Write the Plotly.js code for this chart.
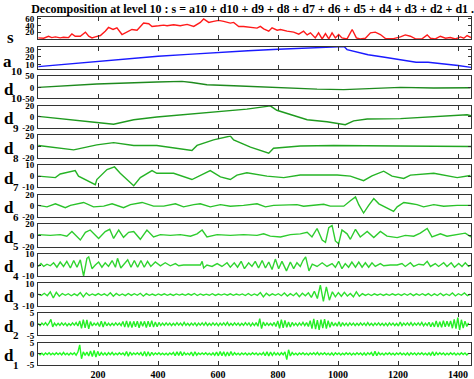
<!DOCTYPE html>
<html><head><meta charset="utf-8">
<script src="https://cdn.plot.ly/plotly-3.0.1.min.js"></script>
<style>body{margin:0;background:#fff}#c{width:474px;height:379px}</style>
</head><body><div id="c"></div>
<script>
// ---- data ----
const titleText = "Decomposition at level 10 : s = a10 + d10 + d9 + d8 + d7 + d6 + d5 + d4 + d3 + d2 + d1 .";
const xTicks = [200,400,600,800,1000,1200,1400];
const xTickLabels = ["200","400","600","800","1000","1200","1400"];

const sX = [1,19,35,46,58,74,85,102,113,124,141,158,169,180,191,208,224,235,250,263,280,297,313,330,352,369,380,402,419,430,452,474,497,519,541,552,569,585,602,619,641,652,669,685,708,730,741,752,769,780,797,808,830,852,869,885,897,908,924,935,947,958,969,980,991,1002,1013,1030,1047,1061,1074,1091,1108,1124,1141,1158,1185,1208,1224,1241,1258,1280,1297,1308,1324,1341,1358,1374,1391,1408,1419,1430,1443];
const sY = [3,2,8,4,6,3,5,4,15,8,8,20,8,3,6,10,23,34,28,33,13,20,28,26,47,45,37,39,41,39,42,39,43,37,49,59,49,52,55,52,47,49,37,37,35,32,37,30,23,33,26,28,23,20,14,23,12,18,3,18,0,16,0,18,3,13,3,0,28,3,0,2,18,20,13,1,1,6,12,8,0,0,12,2,0,8,2,4,0,6,2,10,4];

const a10X = [1,100,200,300,400,500,600,700,800,900,1000,1020,1030,1060,1100,1150,1200,1260,1300,1350,1400,1443];
const a10Y = [7,10.5,14,17,21,23.5,26.5,28.5,30.5,32,33.5,34,30,27,23,20,17,13,13,11,8.5,6];

const d10X = [1,196,396,480,513,563,652,763,874,930,1019,1052,1097,1208,1319,1441];
const d10Y = [0,15,24,27,22,12,7,0,-5,-8,-10,-8,-5,0,-3,-2];

const d9X = [1,97,196,252,274,319,396,485,596,696,763,774,796,852,897,963,1024,1052,1097,1208,1319,1430,1443];
const d9Y = [1,-5,-10,-13,-10,-5,0,4,9,14,19,20,12,3,-5,-8.5,-14,-7,-3.6,-3,0,4,2];

const d8X = [1,119,196,252,319,396,513,530,585,641,652,708,769,785,874,985,1200,1443];
const d8Y = [2,-6,3,7,2,2,-7,2,12,19,12,-1,-12,-3,1,2,1,0];

const d7X = [1,58,74,124,135,191,196,230,255,274,319,341,380,396,452,513,574,608,641,663,696,763,819,874,941,997,1041,1085,1113,1152,1180,1219,1241,1319,1397,1441];
const d7Y = [0,-1.3,2,5,0,-7.7,-3,6,8.3,2.6,-8.6,-1.3,5,2.6,2.6,-3,5,-0.6,-3,1,3,0,-1.3,1,1,1,0,-4,0.3,4.5,0,-2,1,2.6,-1.3,0.6];

const d6X = [1,30,58,91,108,152,185,219,247,285,308,347,385,419,458,485,519,541,574,608,641,685,730,758,785,830,863,885,919,952,974,1019,1041,1058,1069,1085,1102,1119,1136,1185,1197,1219,1241,1263,1285,1319,1352,1397,1443];
const d6Y = [0.7,-2,3.5,-3.5,0.7,6,-2,-0.7,3.5,-3.5,2,6,-0.7,-0.7,3.5,-2,2,3.5,-2,2,-0.7,0.7,3.5,-2,0.7,0.7,2,-0.7,0.7,2.8,-0.7,-0.7,9,16,2,-13,0.7,13,3.5,-10,-2,6,4,2,-2,2,-0.7,0.7,0.7];

const d5X = [1,41,74,96,113,141,158,174,202,224,239,252,269,285,302,319,341,363,385,408,441,474,508,530,547,563,597,641,685,730,752,774,808,841,874,897,913,930,947,958,969,980,991,1002,1013,1030,1041,1058,1074,1097,1119,1141,1163,1197,1224,1252,1274,1297,1313,1341,1363,1397,1424,1443];
const d5Y = [1.4,0,1.4,-1.4,7,-8.3,5.5,9.7,-5.5,7,11,-5.5,9.7,-3.5,5.5,7,-7,9.7,-2.8,1.4,0,1.4,-1.4,2.8,9.7,-2.8,1.4,0,1.4,0,2.8,-1.4,-2.8,1.4,2.8,5.5,-2.8,12.4,-8.3,-12.4,13.8,18,-10,-15,9.7,2.8,-7,11,-2.8,7,-4,7,-1.4,-4,0,-1.4,4,12.4,-2.8,2.8,-1.4,1.4,4,-2.8];

const d4X = [1,10,19,30,41,52,63,74,85,96,108,119,130,141,152,163,169,180,191,202,213,224,235,247,258,265,276,288,299,310,321,332,343,354,365,376,391,408,424,441,458,469,485,541,547,552,563,580,597,613,630,641,654,665,677,688,702,713,724,735,747,758,769,780,791,802,813,828,841,852,863,874,883,892,903,914,930,947,963,980,991,1002,1013,1024,1035,1046,1058,1069,1080,1091,1102,1113,1124,1141,1152,1174,1197,1213,1224,1241,1252,1269,1285,1297,1308,1324,1335,1352,1363,1377,1388,1402,1413,1424,1435,1443];
const d4Y = [-1.3,1.3,-1.3,0.7,-0.7,2,-2,2.7,-1.3,3.3,-2.7,4,-2,4.7,-10,6,7.3,-3.3,0,2.7,-2,2,-1.3,4,-2,6,-2.7,1.3,4.7,-2,4,-2,4,-2,3.3,-1.3,2.7,-0.7,2,-0.7,1.3,-0.7,0,0,3.3,-2.7,0,-1.3,1.3,-1.3,2,-2,2,-2,3.3,-3.3,2,-1.3,3.3,-2.7,4,-2.7,2.7,-4,5.3,-3.3,3.3,-5.3,2.7,-3.3,2,-1.3,4,7.3,-5.3,0.7,-1.3,2,-1.3,1.3,-2,3.3,-3.3,1.3,-2,2.7,-2,2.7,-2,2,-2,2,-1.3,1.3,-0.7,0,0,1.3,-1.3,2,-1.3,0.7,0,3.3,-1.3,1.3,-1.3,2,-1.3,2,-2,1.3,-1.3,2,-1.3,0];

// d3: sampled every 10 samples starting at 1
const d3Y = [0.5,-0.8,1.2,-1.0,2.5,-3.0,2.0,-1.5,1.0,-0.6,
 0.8,-1.0,0.7,-0.9,1.8,-2.0,1.5,-0.8,0.6,-0.7,
 0.9,-0.6,0.7,-1.0,1.6,-1.5,1.0,-0.8,0.6,-0.9,
 1.0,-0.7,0.8,-0.6,1.2,-1.4,0.9,-0.6,0.5,-0.8,
 0.6,-0.5,0.7,-0.6,0.5,-0.7,0.6,-0.4,0.5,-0.6,
 0.7,-0.5,1.0,-0.8,0.6,-0.5,0.4,-0.6,0.8,-0.7,
 0.5,-0.4,0.6,-0.5,0.7,-0.6,0.5,-0.4,0.6,-0.8,
 1.0,-0.8,0.6,-0.7,1.8,-2.0,1.2,-0.9,0.7,-0.6,
 0.8,-1.0,1.4,-1.2,0.9,-1.0,1.5,-1.8,1.2,-1.0,
 1.6,-2.5,3.0,-3.5,8.5,-6.0,7.0,-5.0,2.5,-2.0,
 1.8,-1.5,2.0,-1.2,1.0,-2.0,2.5,-1.5,0.9,-0.7,
 0.6,-0.8,0.7,-0.5,0.6,-0.7,0.5,-0.6,0.7,-0.5,
 0.6,-0.7,0.8,-0.6,1.0,-0.9,0.7,-0.6,0.8,-0.7,
 0.9,-1.0,0.7,-0.8,1.2,-0.9,0.6,-0.8,1.5,-1.2,
 0.8,-0.6,1.5,-1.0,0.5];

// d2, d1: sampled every 6 samples starting at 1
const d2Y = [0.4,-0.6,0.5,-0.3,0.7,-0.5,0.6,2.2,-1.2,0.5,
 -0.6,0.4,-0.5,0.6,-0.4,0.5,-0.7,0.3,-0.5,0.6,
 -0.4,0.7,-0.8,1.5,-1.8,2.0,-1.6,1.9,-2.1,1.2,
 -0.8,0.5,-0.4,0.6,-1.0,1.4,-1.3,1.1,-0.7,0.5,
 -0.6,0.4,-0.5,0.6,-0.4,0.5,-0.6,1.2,-1.3,1.5,
 -1.4,1.2,-1.5,1.3,-1.1,1.4,-1.6,1.2,-0.9,1.3,
 -1.5,1.4,-1.2,1.6,-1.3,1.0,-1.1,0.8,-0.6,0.5,
 -0.5,0.6,-0.4,0.5,-0.6,0.4,-0.5,0.7,-0.4,0.5,
 -0.6,0.8,-0.5,0.4,-0.6,0.5,-0.4,0.6,-0.7,0.5,
 -0.4,0.6,-0.5,0.7,-0.6,0.4,-0.5,0.6,-0.4,0.5,
 -0.7,0.5,-0.4,0.6,-0.5,0.8,-0.6,0.4,-0.5,0.6,
 -0.4,0.5,-0.6,0.4,-0.5,0.7,-0.4,0.6,-0.8,0.5,
 -0.6,0.7,-0.9,2.5,-2.0,1.0,-0.7,0.6,-0.5,0.4,
 -0.6,0.8,-1.0,1.5,-1.8,2.0,-1.6,1.7,-1.4,1.0,
 -1.2,0.8,-0.6,0.5,-0.7,0.6,-0.5,0.8,-0.6,0.7,
 -1.0,1.6,-2.0,2.4,-2.2,1.8,-2.5,2.1,-1.8,2.3,
 -2.0,1.6,-1.4,1.0,-0.8,0.6,-0.9,1.1,-1.0,0.7,
 -0.6,0.5,-0.7,0.6,-0.4,0.5,-0.6,0.4,-0.5,0.6,
 -0.4,0.5,-0.6,0.7,-0.5,0.4,-0.6,0.5,-0.4,0.6,
 -0.5,0.4,-0.6,0.5,-0.7,0.6,-0.4,0.5,-0.6,0.4,
 -0.8,1.0,-0.6,0.5,-0.4,0.6,-0.5,0.7,-0.6,0.5,
 -0.4,0.6,-0.5,0.8,-0.7,0.5,-0.6,0.9,-1.1,0.8,
 -1.2,1.5,-1.3,1.1,-1.4,1.6,-1.2,1.3,-1.0,1.5,
 -1.8,2.2,-2.0,3.0,-2.6,2.0,-1.7,1.4,-1.0,0.6];
const d1Y = [0.3,-0.4,0.3,-0.5,0.4,-0.3,0.5,-0.4,0.3,-0.4,
 0.5,-0.3,0.4,-0.5,0.6,-0.4,0.3,-0.5,0.4,-0.3,
 0.5,-0.6,0.8,4.0,-2.2,0.9,-0.7,0.8,-1.0,1.3,
 -1.2,1.5,-1.4,1.1,-0.8,0.6,-0.5,0.4,-0.6,0.5,
 -0.4,0.6,-0.5,0.3,-0.4,0.5,-0.3,0.4,-0.6,1.0,
 -1.1,0.8,-0.5,0.4,-0.3,0.5,-0.4,0.6,-0.9,1.0,
 -1.1,0.9,-1.0,0.7,-0.5,0.4,-0.3,0.5,-0.4,0.3,
 -0.4,0.3,-0.5,0.4,-0.3,0.6,-0.8,0.9,-0.7,1.0,
 -0.8,0.6,-0.4,0.3,-0.5,0.8,-1.0,0.9,-0.6,0.4,
 -0.3,0.4,-0.3,0.5,-0.4,0.3,-0.5,0.4,-0.6,0.8,
 -0.9,1.0,-0.8,0.9,-1.1,0.8,-0.9,1.0,-0.7,0.5,
 -0.4,0.3,-0.5,0.4,-0.3,0.4,-0.5,0.3,-0.4,0.5,
 -0.3,0.4,-0.5,0.3,-0.4,0.6,-0.8,0.9,-1.0,0.8,
 -0.7,0.6,-0.5,0.4,-0.6,0.5,-0.4,0.9,-2.6,1.8,
 -1.0,0.6,-0.4,0.3,-0.5,0.4,-0.3,0.5,-0.4,0.3,
 -0.5,0.4,-0.3,0.5,-0.4,0.6,-0.5,0.4,-0.3,0.5,
 -0.4,0.3,-0.5,0.4,-0.6,0.5,-0.3,0.4,-0.5,0.3,
 -0.4,0.5,-0.3,0.4,-0.5,0.3,-0.4,0.5,-0.3,0.4,
 -0.5,0.4,-0.6,0.5,-0.3,0.6,-0.9,1.1,-0.8,0.6,
 -0.4,0.3,-0.5,0.4,-0.3,0.5,-0.4,0.3,-0.5,0.4,
 -0.3,0.5,-0.4,0.3,-0.5,0.4,-0.6,0.5,-0.3,0.4,
 -0.5,0.4,-0.3,0.5,-0.4,0.3,-0.5,0.4,-0.6,0.9,
 -0.8,0.6,-0.4,0.5,-0.3,0.4,-0.5,0.3,-0.4,0.5,
 -0.3,0.4,-0.5,0.3,-0.4,0.5,-0.3,0.4,-0.5,0.3];

const labels = ["s","a","d","d","d","d","d","d","d","d","d","d"];
const subs = ["","10","10","9","8","7","6","5","4","3","2","1"];
const yRanges = [[-1,65],[4,34],[-50,50],[-20,20],[-20,20],[-10,10],[-20,20],[-20,20],[-10,10],[-10,10],[-5,5],[-5,5]];
const yTicks = [[20,40,60],[10,20,30],[-50,0,50],[-20,0,20],[-20,0,20],[-10,0,10],[-20,0,20],[-20,0,20],[-10,0,10],[-10,0,10],[-5,0,5],[-5,0,5]];

// ---- styling / layout ----
const colors = ["#ff1a1a","#1a1aff","#1e8a1e","#1f9a1f","#22a622","#26b426","#2ac22a","#2ecc2e","#30d430","#2ee02e","#26ee26","#22fa22"];
const W=474,H=379,ML=37.5,MR=3,MT=16.7,MB=13.7;
const plotW=W-ML-MR, plotH=H-MT-MB;
const PT0=16.7, PSTEP=29.66, PH=22.3;
const serif="Liberation Serif, Times New Roman, serif";

const series = [
  {x:sX,y:sY},{x:a10X,y:a10Y},{x:d10X,y:d10Y},{x:d9X,y:d9Y},{x:d8X,y:d8Y},{x:d7X,y:d7Y},
  {x:d6X,y:d6Y},{x:d5X,y:d5Y},{x:d4X,y:d4Y},{y:d3Y,x0:1,dx:10},{y:d2Y,x0:1,dx:6},{y:d1Y,x0:1,dx:6}
];

const traces=[]; const layout={
  width:W,height:H,showlegend:false,paper_bgcolor:"#fff",plot_bgcolor:"#fff",
  margin:{l:ML,r:MR,t:MT,b:MB},
  title:{text:titleText,font:{family:serif,size:12,weight:"bold",color:"#000"},x:0.533,xanchor:"center",xref:"container",y:1-9/H,yanchor:"middle",yref:"container"},
  annotations:[]
};
function pxX(px){return (px-ML)/plotW;}
function pxY(py){return 1-(py-MT)/plotH;}
series.forEach((s,i)=>{
  const k=i===0?"":String(i+1);
  const t={type:"scatter",mode:"lines",line:{color:colors[i],width:1.4},xaxis:"x"+k,yaxis:"y"+k,hoverinfo:"skip"};
  Object.assign(t,s); traces.push(t);
  const top=PT0+PSTEP*i-MT, bot=top+PH;
  const d0=Math.max(0,1-bot/plotH), d1=Math.min(1,1-top/plotH);
  layout["xaxis"+k]={domain:[0,1],anchor:"y"+k,range:[0,1443],tickvals:xTicks,ticktext:xTickLabels,
    showticklabels:i===11,ticks:"inside",ticklen:4,tickcolor:"#333",mirror:"ticks",showline:true,linecolor:"#333",linewidth:1,
    showgrid:false,zeroline:false,tickfont:{family:serif,size:10,weight:"bold",color:"#000"}};
  layout["yaxis"+k]={domain:[d0,d1],anchor:"x"+k,range:yRanges[i],tickvals:yTicks[i],ticktext:yTicks[i].map(String),
    ticks:"inside",ticklen:3,tickcolor:"#333",mirror:"ticks",showline:true,linecolor:"#333",linewidth:1,
    showgrid:false,zeroline:false,ticklabelstandoff:1,tickfont:{family:serif,size:9,weight:"bold",color:"#000"}};
  const pc=PT0+PSTEP*i+PH/2;
  let lx=8, ly=pc+2, sx=11, sy=pc+11;
  if(i===0){lx=10;ly=pc+9;}
  if(i===1){lx=7;ly=pc+4;sx=9;sy=pc+13;}
  if(i===2){sx=9;}
  layout.annotations.push({text:labels[i],xref:"paper",yref:"paper",x:pxX(lx),y:pxY(ly),xanchor:"center",yanchor:"middle",showarrow:false,borderpad:0,
    font:{family:serif,size:17,weight:"bold",color:"#000"}});
  if(subs[i]) layout.annotations.push({text:subs[i],xref:"paper",yref:"paper",x:pxX(sx),y:pxY(sy),xanchor:"left",yanchor:"middle",showarrow:false,borderpad:0,
    font:{family:serif,size:11,weight:"bold",color:"#000"}});
});
Plotly.newPlot("c",traces,layout,{staticPlot:true,displayModeBar:false});
</script>
</body></html>
